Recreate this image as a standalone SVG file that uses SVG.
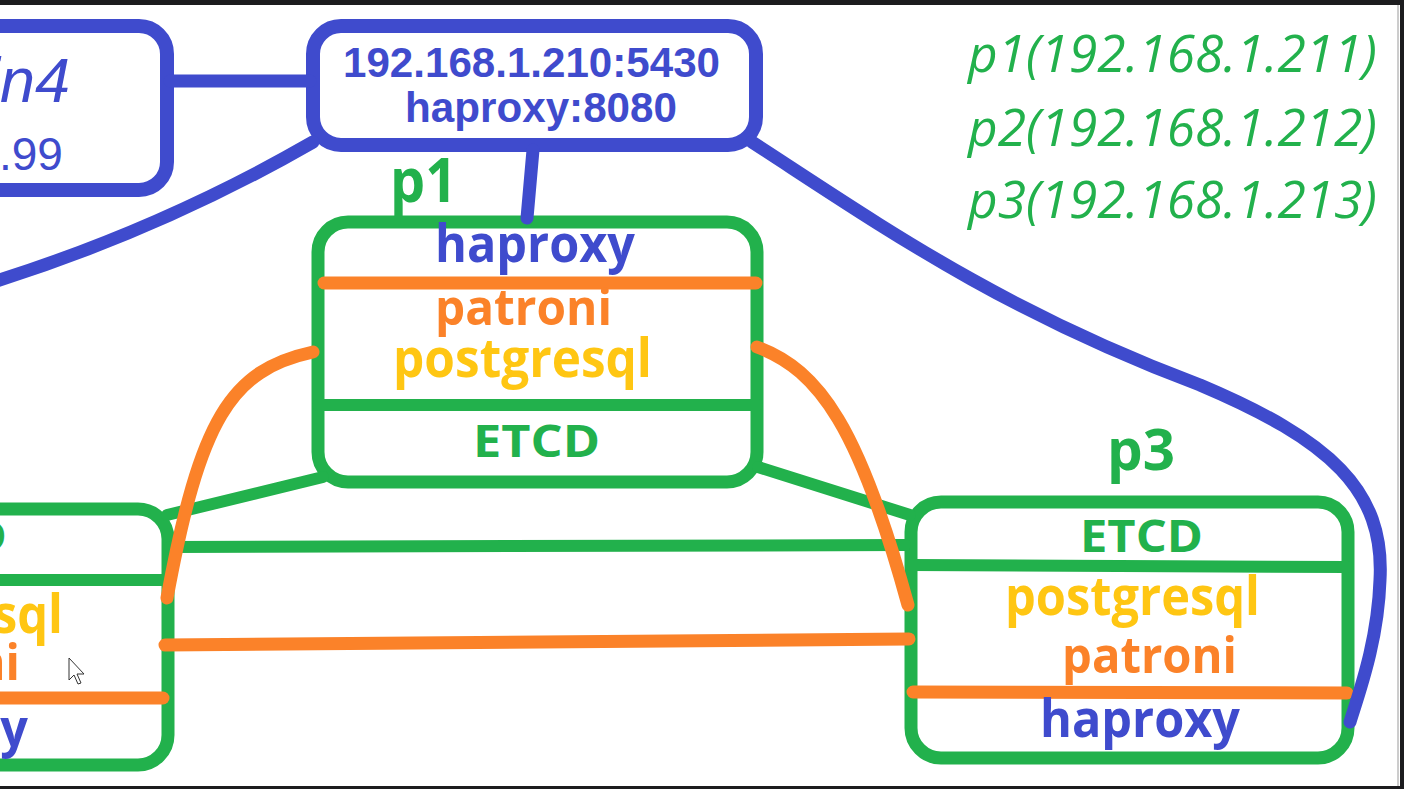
<svg xmlns="http://www.w3.org/2000/svg" width="1404" height="789" viewBox="0 0 1404 789">
<defs>
<style>
.bg{fill:#ffffff}
.frame{fill:#1c1c1e}
.bbox{fill:#ffffff;stroke:#3f4bcd;stroke-width:14}
.gbox{fill:#ffffff;stroke:#22b14c;stroke-width:13}
.gl{stroke:#22b14c;stroke-width:12;fill:none;stroke-linecap:round}
.ol{stroke:#fb8229;stroke-width:13;fill:none;stroke-linecap:round}
.bl{stroke:#3f4bcd;stroke-width:13;fill:none;stroke-linecap:round}
.lbl{font-family:"Open Sans","Noto Sans","DejaVu Sans",sans-serif;font-weight:700;text-anchor:middle}
.ip{font-family:"Liberation Sans",Arial,sans-serif;font-weight:700;fill:#3f4bcd;font-size:42px}
.blue{fill:#3f4bcd}
.orange{fill:#fb8229}
.yellow{fill:#ffc612}
.green{fill:#22b14c}
.side{font-family:"Open Sans","Noto Sans",sans-serif;font-style:italic;font-size:52px;fill:#22b14c}
</style>
</defs>
<rect class="bg" x="0" y="0" width="1404" height="789"/>

<g id="client">
  <rect class="bbox" x="-100" y="26" width="267" height="164" rx="28"/>
  <text x="70" y="102" font-family="Liberation Sans,Arial,sans-serif" font-style="italic" font-size="63" text-anchor="end" class="blue">in4</text>
  <text x="-1" y="170" font-family="Liberation Sans,Arial,sans-serif" font-size="46" class="blue">.99</text>
</g>

<g id="vip">
  <rect class="bbox" x="313" y="26" width="443" height="119" rx="28"/>
  <text class="ip" x="343" y="77" textLength="377" lengthAdjust="spacingAndGlyphs">192.168.1.210:5430</text>
  <text class="ip" x="405" y="122" textLength="272" lengthAdjust="spacingAndGlyphs">haproxy:8080</text>
</g>

<g id="p1">
  <rect class="gbox" x="318" y="222" width="439" height="260" rx="30"/>
  <line class="gl" x1="318" y1="405" x2="757" y2="405" stroke-width="13"/>
  <line class="ol" x1="324" y1="283" x2="756" y2="283"/>
  <text class="lbl blue" x="535" y="262" font-size="52" textLength="200" lengthAdjust="spacingAndGlyphs">haproxy</text>
  <text class="lbl orange" x="523.5" y="325" font-size="50" textLength="177" lengthAdjust="spacingAndGlyphs">patroni</text>
  <text class="lbl yellow" x="522.5" y="377" font-size="54" textLength="259" lengthAdjust="spacingAndGlyphs">postgresql</text>
  <text class="lbl green" x="536.5" y="457" font-size="45" textLength="127" lengthAdjust="spacingAndGlyphs">ETCD</text>
  <text class="lbl green" x="423.5" y="202" font-size="60" textLength="67" lengthAdjust="spacingAndGlyphs">p1</text>
</g>

<g id="p2">
  <rect class="gbox" x="-270" y="509" width="438" height="256" rx="30"/>
  <line class="gl" x1="-270" y1="580" x2="165" y2="580" stroke-width="13"/>
  <line class="ol" x1="-270" y1="698" x2="163" y2="698"/>
  <text class="lbl green" x="7" y="552" font-size="45" style="text-anchor:end" textLength="123" lengthAdjust="spacingAndGlyphs">ETCD</text>
  <text class="lbl yellow" x="63" y="633" font-size="54" style="text-anchor:end" textLength="255" lengthAdjust="spacingAndGlyphs">postgresql</text>
  <text class="lbl orange" x="20" y="680" font-size="50" style="text-anchor:end" textLength="175" lengthAdjust="spacingAndGlyphs">patroni</text>
  <text class="lbl blue" x="28" y="746" font-size="52" style="text-anchor:end" textLength="200" lengthAdjust="spacingAndGlyphs">haproxy</text>
</g>

<g id="p3">
  <rect class="gbox" x="911" y="502" width="437" height="256" rx="30"/>
  <line class="gl" x1="911" y1="565" x2="1348" y2="567" stroke-width="13"/>
  <line class="ol" x1="913" y1="692" x2="1347" y2="693"/>
  <text class="lbl green" x="1141" y="470" font-size="58" textLength="68" lengthAdjust="spacingAndGlyphs">p3</text>
  <text class="lbl green" x="1141.5" y="552" font-size="45" textLength="123" lengthAdjust="spacingAndGlyphs">ETCD</text>
  <text class="lbl yellow" x="1132.5" y="615" font-size="54" textLength="255" lengthAdjust="spacingAndGlyphs">postgresql</text>
  <text class="lbl orange" x="1149.5" y="673" font-size="50" textLength="175" lengthAdjust="spacingAndGlyphs">patroni</text>
  <text class="lbl blue" x="1140" y="737" font-size="52" textLength="200" lengthAdjust="spacingAndGlyphs">haproxy</text>
</g>

<g id="hosts">
  <text class="side" x="968" y="72" textLength="409" lengthAdjust="spacingAndGlyphs">p1(192.168.1.211)</text>
  <text class="side" x="968" y="146" textLength="409" lengthAdjust="spacingAndGlyphs">p2(192.168.1.212)</text>
  <text class="side" x="968" y="218" textLength="409" lengthAdjust="spacingAndGlyphs">p3(192.168.1.213)</text>
</g>

<g id="connectors">
  <line class="bl" x1="170" y1="81" x2="310" y2="81"/>
  <path class="bl" d="M313,142 Q160,230 -10,283"/>
  <path class="bl" d="M752,142 C880,225 1000,310 1200,385 C1330,440 1385,490 1380,580 C1378,640 1360,690 1350,722"/>
  <line class="bl" x1="533" y1="150" x2="527" y2="218"/>
  <line class="gl" x1="323" y1="477" x2="167" y2="515"/>
  <line class="gl" x1="758" y1="467" x2="910" y2="515"/>
  <line class="gl" x1="170" y1="547" x2="905" y2="545"/>
  <path class="ol" d="M313,352 C230,370 200,420 167,598"/>
  <path class="ol" d="M757,347 C820,370 860,430 908,605"/>
  <line class="ol" x1="165" y1="645" x2="909" y2="639"/>
</g>

<path d="M69,658 L69,680 L74,675 L78,684 L81,683 L77,674 L84,674 Z" fill="#ffffff" stroke="#333333" stroke-width="1"/>

<g id="frame">
  <rect class="frame" x="0" y="0" width="1404" height="5"/>
  <rect class="frame" x="1400" y="0" width="4" height="789"/>
  <rect class="frame" x="0" y="786" width="1404" height="3"/>
  <line x1="1398" y1="5" x2="1398" y2="786" stroke="#9a9a9a" stroke-width="1"/>
</g>
</svg>
